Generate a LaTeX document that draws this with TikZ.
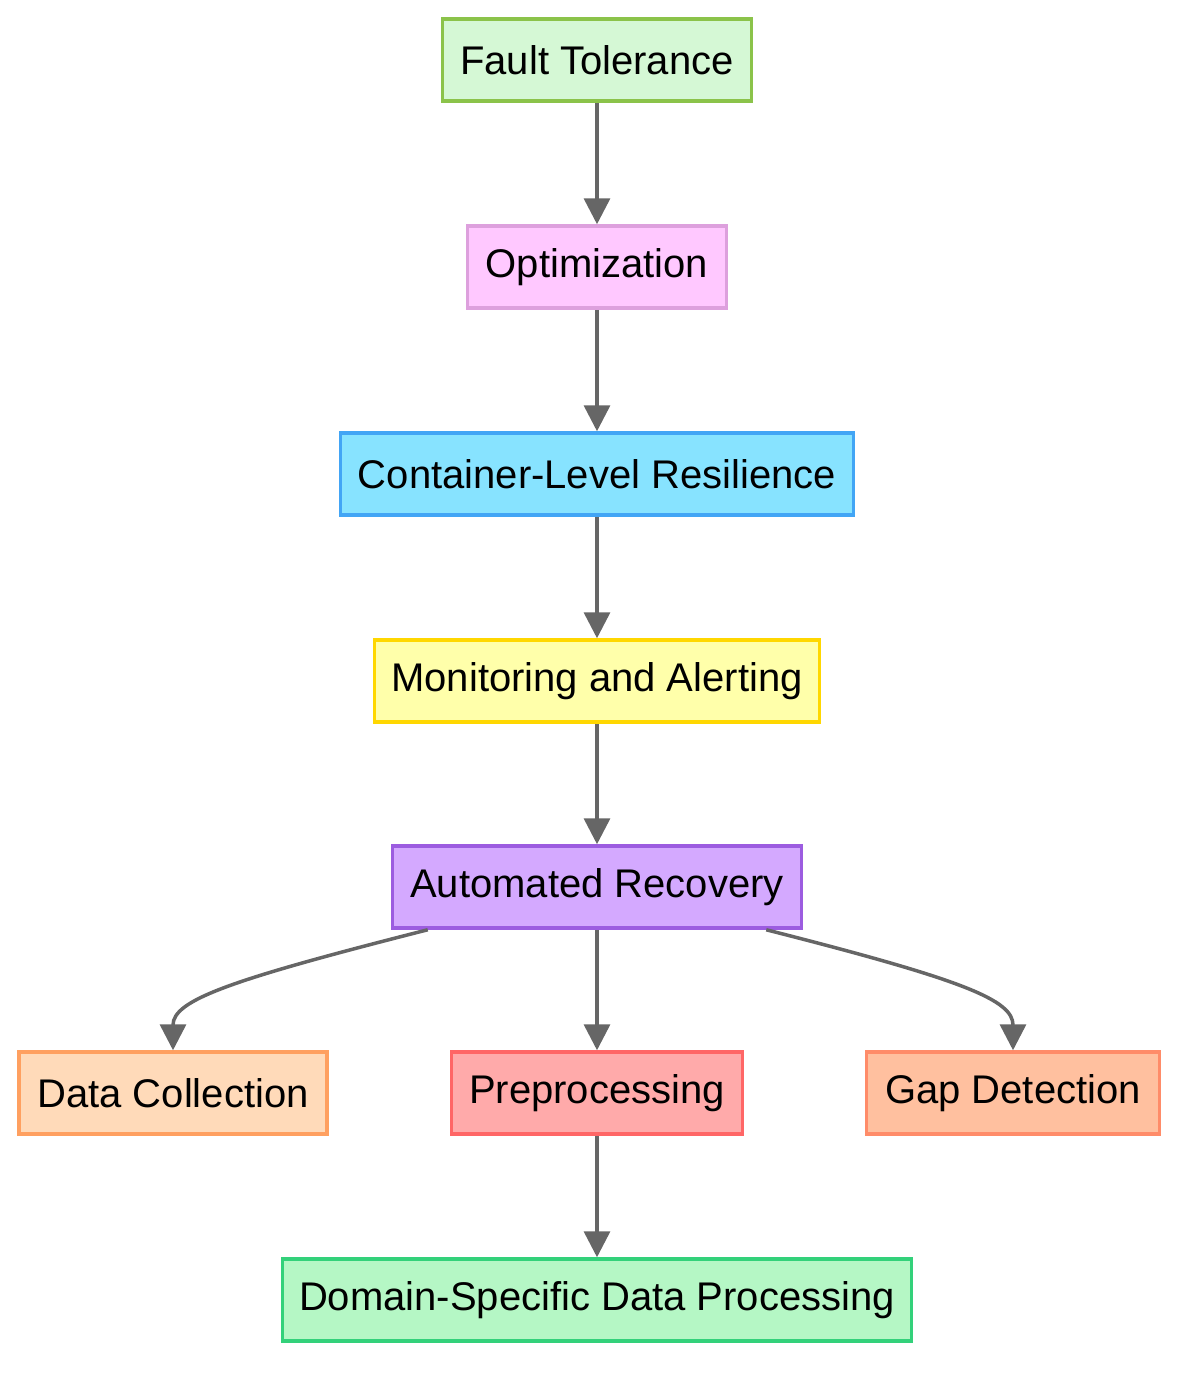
\documentclass[tikz,border=0pt]{standalone}
\usepackage{fontspec}
\setmainfont{Liberation Sans}
\usetikzlibrary{arrows.meta}
\begin{document}
\begin{tikzpicture}[x=1pt,y=-1pt,
box/.style={draw,line width=3.5pt,minimum height=82pt,inner sep=0pt,font=\fontsize{40}{44}\selectfont},
edge/.style={draw=black!60,line width=3.5pt,-{Triangle[length=26pt,width=26pt]}}]
\useasboundingbox (0,0) rectangle (1200,1382);
\node[box,fill={rgb,255:red,213;green,248;blue,213},draw={rgb,255:red,139;green,195;blue,74},minimum width=309pt] (ft) at (597,60) {Fault Tolerance};
\node[box,fill={rgb,255:red,255;green,200;blue,255},draw={rgb,255:red,221;green,160;blue,221},minimum width=259pt] (op) at (597,267) {Optimization};
\node[box,fill={rgb,255:red,135;green,227;blue,255},draw={rgb,255:red,66;green,165;blue,245},minimum width=513pt] (cl) at (597,474) {Container-Level Resilience};
\node[box,fill={rgb,255:red,255;green,255;blue,170},draw={rgb,255:red,255;green,215;blue,0},minimum width=445pt] (ma) at (597,681) {Monitoring and Alerting};
\node[box,fill={rgb,255:red,212;green,169;blue,255},draw={rgb,255:red,156;green,92;blue,224},minimum width=409pt] (ar) at (597,887) {Automated Recovery};
\node[box,fill={rgb,255:red,255;green,218;blue,185},draw={rgb,255:red,255;green,160;blue,96},minimum width=308pt] (dc) at (173,1093) {Data Collection};
\node[box,fill={rgb,255:red,255;green,170;blue,170},draw={rgb,255:red,255;green,102;blue,102},minimum width=291pt] (pp) at (597,1093) {Preprocessing};
\node[box,fill={rgb,255:red,255;green,192;blue,159},draw={rgb,255:red,255;green,140;blue,105},minimum width=293pt] (gd) at (1013,1093) {Gap Detection};
\node[box,fill={rgb,255:red,181;green,247;blue,197},draw={rgb,255:red,51;green,209;blue,122},minimum width=629pt] (dp) at (597,1300) {Domain-Specific Data Processing};
\draw[edge] (ft) -- (op);
\draw[edge] (op) -- (cl);
\draw[edge] (cl) -- (ma);
\draw[edge] (ma) -- (ar);
\draw[edge] (ar) -- (pp);
\draw[edge] (pp) -- (dp);
\coordinate (a1) at ([xshift=37pt]ar.south west);
\coordinate (a2) at ([xshift=-37pt]ar.south east);
\draw[edge] (a1) .. controls (230,980) and (173,1000) .. (dc.north);
\draw[edge] (a2) .. controls (964,980) and (1013,1000) .. (gd.north);
\end{tikzpicture}
\end{document}
